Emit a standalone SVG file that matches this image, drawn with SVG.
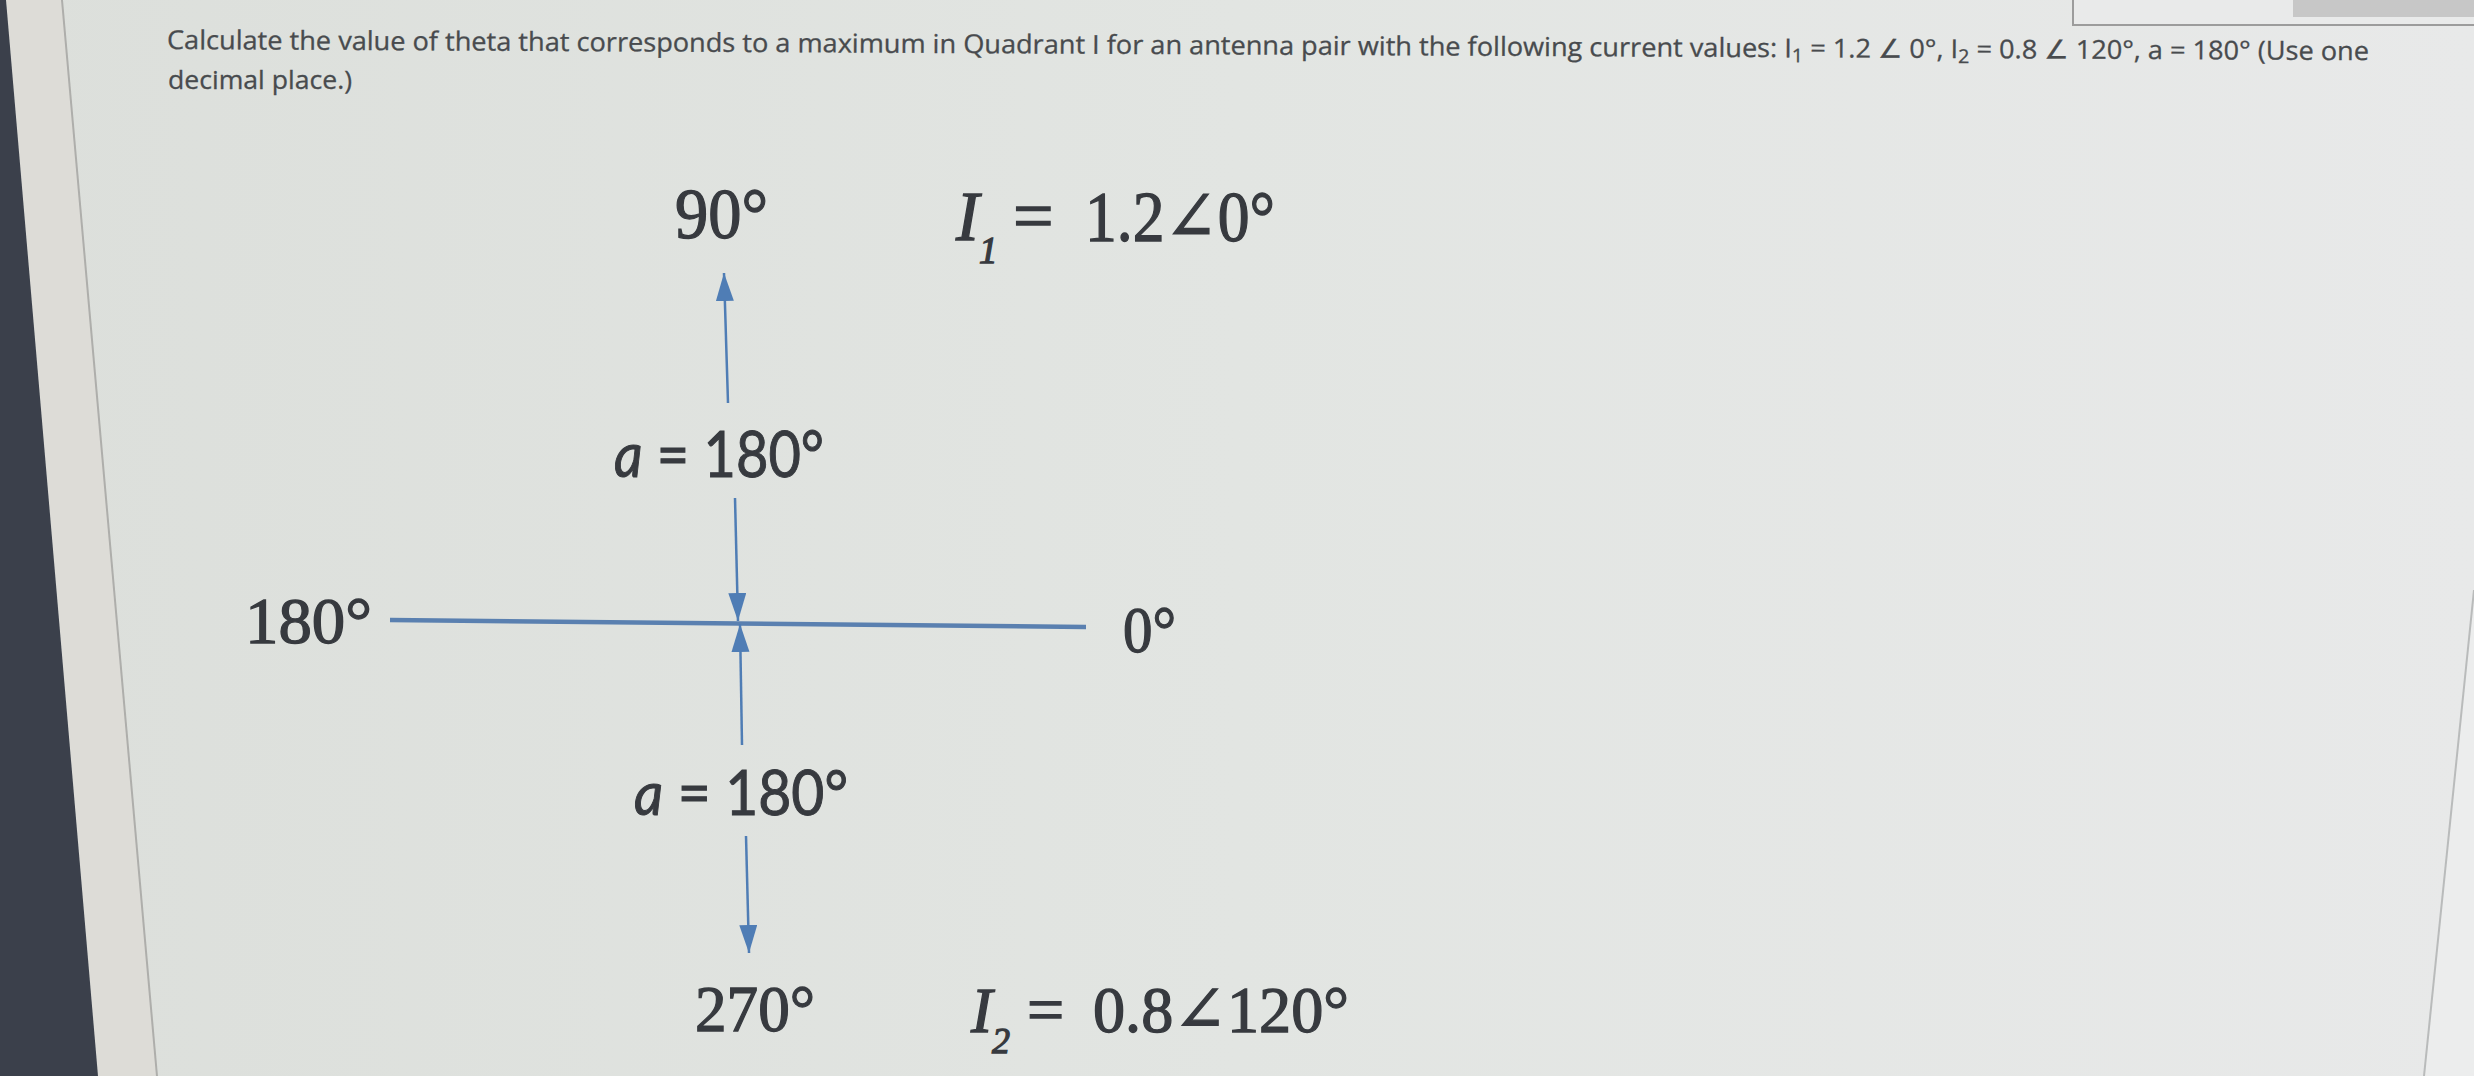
<svg xmlns="http://www.w3.org/2000/svg" width="2474" height="1076" viewBox="0 0 2474 1076">
  <defs>
    <linearGradient id="page" x1="0" y1="0" x2="1" y2="0">
      <stop offset="0" stop-color="#dcdfdb"/>
      <stop offset="0.5" stop-color="#e2e5e2"/>
      <stop offset="1" stop-color="#e8e9e9"/>
    </linearGradient>
    <marker id="ah" markerUnits="userSpaceOnUse" markerWidth="30" markerHeight="20" refX="28" refY="9" orient="auto">
      <path d="M0,0 L28,9 L0,18 z" fill="#4f7db5"/>
    </marker>
    <style>
      .title { font-family: "Open Sans", "DejaVu Sans", sans-serif; font-size: 26px; fill: #484b4e; stroke: #484b4e; stroke-width: 0.3; }
      .ser { font-family: "Liberation Serif", "DejaVu Serif", serif; fill: #373a3f; stroke: #373a3f; stroke-width: 1.3; }
      .sans { font-family: Lato, "Liberation Sans", sans-serif; fill: #373a3f; stroke: #373a3f; stroke-width: 1; }
      .it { font-style: italic; }
      .arr { stroke: #4f7db5; stroke-width: 2.5; fill: none; marker-end: url(#ah); }
      .axis { stroke: #5a80b0; stroke-width: 4.5; fill: none; }
    </style>
  </defs>

  <!-- photo backdrop -->
  <rect x="0" y="0" width="2474" height="1076" fill="url(#page)"/>
  <polygon points="2474,590 2474,1076 2424,1076" fill="#eceded"/>
  <line x1="2474" y1="590" x2="2424" y2="1076" stroke="#b9bbbb" stroke-width="2"/>
  <polygon points="6,0 62,0 157,1076 98,1076" fill="#dddcd7"/>
  <line x1="62" y1="0" x2="157" y2="1076" stroke="#aeaeab" stroke-width="2"/>
  <polygon points="0,0 6,0 98,1076 0,1076" fill="#3b404b"/>
  <rect x="2073" y="-3" width="410" height="28" fill="#e9eaea" stroke="#9c9c9c" stroke-width="2"/>
  <rect x="2293" y="-3" width="190" height="20" fill="#c7c7c7"/>

  <!-- question text -->
  <g id="question">
    <text class="title" x="167" y="49" transform="rotate(0.29 167 49)" textLength="2202" lengthAdjust="spacingAndGlyphs">Calculate the value of theta that corresponds to a maximum in Quadrant I for an antenna pair with the following current values: I<tspan font-size="19" dy="5">1</tspan><tspan dy="-5"> = 1.2 ∠ 0°, I</tspan><tspan font-size="19" dy="5">2</tspan><tspan dy="-5"> = 0.8 ∠ 120°, a = 180° (Use one</tspan></text>
    <text class="title" x="168" y="89" textLength="184" lengthAdjust="spacingAndGlyphs">decimal place.)</text>
  </g>

  <!-- connectors -->
  <g id="connectors">
    <line class="axis" x1="390" y1="620" x2="1086" y2="627"/>
    <line class="arr" x1="728" y1="403" x2="724" y2="273"/>
    <line class="arr" x1="735" y1="498" x2="738" y2="621"/>
    <line class="arr" x1="742" y1="745" x2="740" y2="624"/>
    <line class="arr" x1="746" y1="836" x2="749" y2="953"/>
  </g>

  <!-- labels -->
  <g id="label-90">
    <text class="ser" x="675" y="238" font-size="71" textLength="93" lengthAdjust="spacingAndGlyphs">90°</text>
  </g>
  <g id="label-I1">
    <text class="ser it" x="956" y="240" font-size="69">I</text>
    <text class="ser it" x="979" y="263" font-size="37">1</text>
    <text class="ser" x="1013" y="240" font-size="72">=</text>
    <text class="ser" x="1085" y="241" font-size="71" textLength="190" lengthAdjust="spacingAndGlyphs">1.2∠0°</text>
  </g>
  <g id="label-a-upper">
    <text class="sans" x="614" y="477" font-size="63" textLength="210" lengthAdjust="spacingAndGlyphs"><tspan class="it">a</tspan> = 180°</text>
  </g>
  <g id="label-180">
    <text class="ser" x="245" y="643" font-size="65" textLength="127" lengthAdjust="spacingAndGlyphs">180°</text>
  </g>
  <g id="label-0">
    <text class="ser" x="1123" y="652" font-size="65" textLength="53" lengthAdjust="spacingAndGlyphs">0°</text>
  </g>
  <g id="label-a-lower">
    <text class="sans" x="634" y="815" font-size="61" textLength="214" lengthAdjust="spacingAndGlyphs"><tspan class="it">a</tspan> = 180°</text>
  </g>
  <g id="label-270">
    <text class="ser" x="695" y="1031" font-size="65" textLength="120" lengthAdjust="spacingAndGlyphs">270°</text>
  </g>
  <g id="label-I2">
    <text class="ser it" x="971" y="1032" font-size="64">I</text>
    <text class="ser it" x="992" y="1053" font-size="36">2</text>
    <text class="ser" x="1027" y="1032" font-size="66">=</text>
    <text class="ser" x="1093" y="1032" font-size="65" textLength="256" lengthAdjust="spacingAndGlyphs">0.8∠120°</text>
  </g>
</svg>
